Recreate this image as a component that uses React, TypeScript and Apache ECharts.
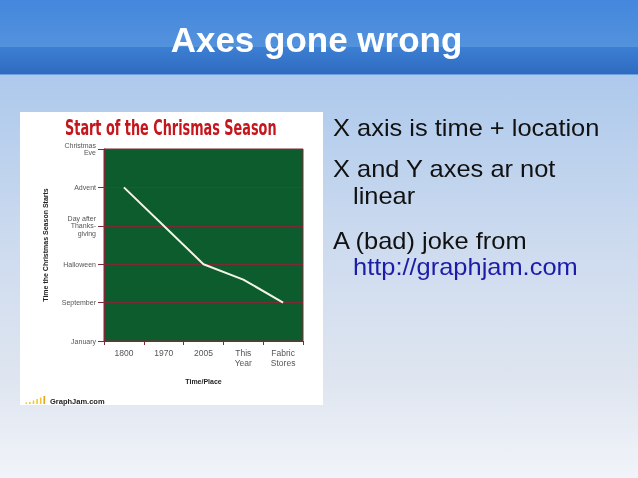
import React, { useEffect, useRef } from "react";
import * as echarts from "echarts";

const xCategories = ["1800", "1970", "2005", "This\nYear", "Fabric\nStores"];
const seasonStart = [4, 3, 2, 1.6, 1];
const yLevelLabels = [
  "January",
  "September",
  "Halloween",
  "Day after\nThanks-\ngiving",
  "Advent",
  "Christmas\nEve",
];
const slideTitle = "Axes gone wrong";
const chartTitle = "Start of the Chrismas Season";
const yAxisName = "Time the Christmas Season Starts";
const xAxisName = "Time/Place";
const sourceName = "GraphJam.com";
const bulletLines = [
  { text: "X axis is time + location", indent: false, link: false },
  { text: "X and Y axes ar not", indent: false, link: false },
  { text: "linear", indent: true, link: false },
  { text: "A (bad) joke from", indent: false, link: false },
  { text: "http://graphjam.com", indent: true, link: true },
];
const bulletMiddles = [127.3, 168.9, 195.6, 240.6, 266.6];
const logoBarHeights = [1.5, 2, 3.5, 5, 6.5, 8];

const MAROON = "#7c2a36";

export default function App() {
  const ref = useRef<HTMLDivElement>(null);
  useEffect(() => {
    if (!ref.current) return;
    const chart = echarts.init(ref.current, undefined, { renderer: "svg" });

    const graphics: any[] = [
      {
        type: "rect",
        z: -100,
        shape: { x: 0, y: 75, width: 638, height: 403 },
        style: {
          fill: new echarts.graphic.LinearGradient(0, 0, 0, 1, [
            { offset: 0, color: "#adc9ec" },
            { offset: 0.45, color: "#cfdcef" },
            { offset: 0.75, color: "#dee5f0" },
            { offset: 1, color: "#f1f4f9" },
          ]),
        },
      },
      {
        type: "rect",
        z: -100,
        shape: { x: 0, y: 0, width: 638, height: 47 },
        style: {
          fill: new echarts.graphic.LinearGradient(0, 0, 0, 1, [
            { offset: 0, color: "#4487dc" },
            { offset: 1, color: "#5392dc" },
          ]),
        },
      },
      {
        type: "rect",
        z: -100,
        shape: { x: 0, y: 47, width: 638, height: 27 },
        style: {
          fill: new echarts.graphic.LinearGradient(0, 0, 0, 1, [
            { offset: 0, color: "#3c7fd3" },
            { offset: 1, color: "#2e6bc0" },
          ]),
        },
      },
      {
        type: "rect",
        z: -100,
        shape: { x: 0, y: 74, width: 638, height: 1 },
        style: { fill: "#6f9fdb" },
      },
      {
        type: "text",
        z: 100,
        x: 316.5,
        y: 39.5,
        style: {
          text: slideTitle,
          fill: "#ffffff",
          font: "bold 35px 'Liberation Sans', Arial, sans-serif",
          align: "center",
          verticalAlign: "middle",
        },
      },
      {
        type: "rect",
        z: -50,
        shape: { x: 20, y: 112, width: 303, height: 293 },
        style: { fill: "#ffffff" },
      },
      {
        type: "text",
        z: 100,
        x: 65,
        y: 127,
        scaleX: 0.68,
        style: {
          text: chartTitle,
          fill: "#c4161c",
          font: "bold 21px 'DejaVu Sans Condensed', sans-serif",
          align: "left",
          verticalAlign: "middle",
        },
      },
      {
        type: "text",
        z: 100,
        x: 50,
        y: 401,
        style: {
          text: sourceName,
          fill: "#222222",
          font: "bold 7.5px 'Liberation Sans', Arial, sans-serif",
          align: "left",
          verticalAlign: "middle",
        },
      },
    ];

    logoBarHeights.forEach((h, i) => {
      graphics.push({
        type: "rect",
        z: 100,
        shape: { x: 25.5 + i * 3.6, y: 404 - h, width: 1.6, height: h },
        style: { fill: i === logoBarHeights.length - 1 ? "#e9a11a" : "#f2c72a" },
      });
    });

    bulletLines.forEach((b, i) => {
      graphics.push({
        type: "text",
        z: 100,
        x: b.indent ? 353 : 333,
        y: bulletMiddles[i],
        scaleX: 1.06,
        style: {
          text: b.text,
          fill: b.link ? "#1c1ca8" : "#111111",
          font: "24px 'Liberation Sans', Arial, sans-serif",
          align: "left",
          verticalAlign: "middle",
        },
      });
    });

    const option: any = {
      animation: false,
      grid: {
        left: 104,
        top: 149,
        width: 199,
        height: 192,
        show: true,
        backgroundColor: "#0c5c2d",
        borderColor: MAROON,
        borderWidth: 1,
        z: 0,
      },
      xAxis: {
        type: "category",
        data: xCategories,
        boundaryGap: true,
        name: xAxisName,
        nameLocation: "middle",
        nameGap: 37,
        nameTextStyle: {
          fontFamily: "'Liberation Sans', Arial, sans-serif",
          fontWeight: "bold",
          fontSize: 7,
          color: "#222",
        },
        axisLine: { show: true, lineStyle: { color: MAROON, width: 1 } },
        axisTick: { show: true, length: 4, lineStyle: { color: MAROON } },
        axisLabel: {
          margin: 6.5,
          fontFamily: "'Liberation Sans', Arial, sans-serif",
          fontSize: 8.5,
          lineHeight: 10.5,
          color: "#555",
          interval: 0,
        },
        splitLine: { show: false },
      },
      yAxis: {
        type: "value",
        min: 0,
        max: 5,
        interval: 1,
        name: yAxisName,
        nameLocation: "middle",
        nameGap: 55.5,
        nameTextStyle: {
          fontFamily: "'Liberation Sans', Arial, sans-serif",
          fontWeight: "bold",
          fontSize: 7,
          color: "#222",
        },
        axisLine: { show: true, lineStyle: { color: MAROON, width: 1 } },
        axisTick: { show: true, length: 6, lineStyle: { color: MAROON } },
        axisLabel: {
          margin: 8,
          fontFamily: "'Liberation Sans', Arial, sans-serif",
          fontSize: 7,
          lineHeight: 7.5,
          color: "#555",
          align: "right",
          formatter: (v: number) => yLevelLabels[Math.round(v)] ?? "",
        },
        splitLine: { show: true, lineStyle: { color: MAROON, width: 1 } },
      },
      graphic: { elements: graphics },
      series: [
        {
          type: "line",
          data: seasonStart,
          symbol: "none",
          lineStyle: { color: "#f4f4e6", width: 2 },
          z: 5,
        },
      ],
    };
    chart.setOption(option);
    return () => chart.dispose();
  }, []);
  return (
    <div
      ref={ref}
      style={{ position: "fixed", left: 0, top: 0, width: 638, height: 478 }}
    />
  );
}
